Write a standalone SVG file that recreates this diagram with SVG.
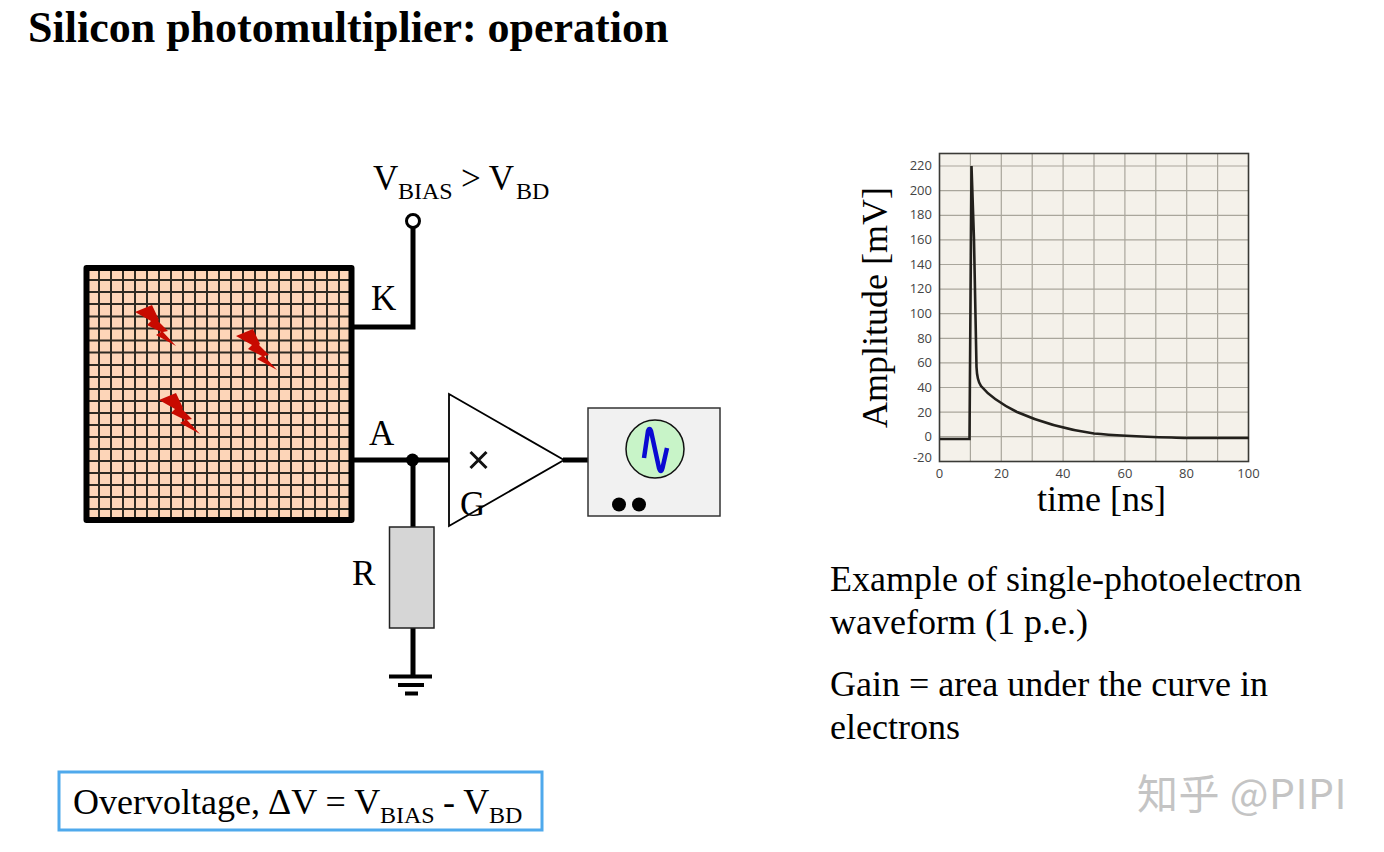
<svg xmlns="http://www.w3.org/2000/svg" width="1384" height="852" viewBox="0 0 1384 852">
<style>
.t{font-family:"Liberation Serif","Times New Roman",serif;fill:#000}
.b{font-size:36px}
.l{font-size:35px}
.s{font-size:24px}
.w{fill:none;stroke:#000;stroke-width:5}
.g{stroke:#2e2a22;stroke-width:2}
.pg{stroke:#a9a69c;stroke-width:1.200}
.n{font-family:"Open Sans","Liberation Sans",sans-serif;font-size:13px;fill:#444;text-anchor:end}
.m{font-family:"Open Sans","Liberation Sans",sans-serif;font-size:13px;fill:#444;text-anchor:middle}
</style>
<defs>
<polygon id="bolt" points="0,7 17,0 24,15 23,16 33,26 28,27 41,41 21,30 26,27 12,20 16,16" fill="#c80a00"/>
</defs>
<rect width="1384" height="852" fill="#fff"/>
<text class="t" x="28" y="42" font-size="44" font-weight="bold">Silicon photomultiplier: operation</text>

<g id="connectors">
<path class="w" d="M413 228V327H353"/>
<path class="w" d="M353 460H449M413 460V527M563 460H588M413 628V676"/>
</g>

<g id="sipm">
<rect x="86" y="268" width="266" height="252" fill="#fdd5b8"/>
<path class="g" d="M99 270V520M111 270V520M123 270V520M135 270V520M147 270V520M159 270V520M171 270V520M183 270V520M195 270V520M207 270V520M219 270V520M231 270V520M243 270V520M255 270V520M267 270V520M279 270V520M291 270V520M303 270V520M315 270V520M327 270V520M339 270V520"/>
<path class="g" d="M88 280H351M88 292H351M88 304H351M88 316.500H351M88 328.500H351M88 340.500H351M88 352.500H351M88 365H351M88 377H351M88 389H351M88 401H351M88 413H351M88 425H351M88 437H351M88 449H351M88 461H351M88 473H351M88 485H351M88 497H351M88 509H351"/>
<rect x="86.500" y="268" width="265" height="252" fill="none" stroke="#000" stroke-width="6" stroke-linejoin="round"/>
<use href="#bolt" x="135" y="305"/>
<use href="#bolt" x="236" y="329"/>
<use href="#bolt" x="159" y="393"/>
</g>

<g id="vbias">
<circle cx="413" cy="221" r="6.500" fill="#fff" stroke="#000" stroke-width="3"/>
<text class="t l" x="373" y="190">V</text>
<text class="t s" x="398" y="199">BIAS</text>
<text class="t l" x="461" y="190">&gt; V</text>
<text class="t s" x="516" y="199">BD</text>
</g>
<g id="label-k"><text class="t l" x="371" y="310">K</text></g>
<g id="label-a"><text class="t l" x="369" y="445">A</text></g>
<g id="junction"><circle cx="412.500" cy="460" r="6.500" fill="#000"/></g>

<g id="amplifier">
<polygon points="449,394 564,460 449,526" fill="#fff" stroke="#000" stroke-width="1.800"/>
<path d="M470.500 452L486.500 468M486.500 452L470.500 468" stroke="#111" stroke-width="3" fill="none"/>
<text class="t l" x="460" y="516">G</text>
</g>

<g id="scope">
<rect x="588" y="408" width="132" height="108" fill="#f1f1f1" stroke="#333" stroke-width="1.500"/>
<circle cx="655" cy="449" r="29" fill="#c8f4c8" stroke="#111" stroke-width="1.500"/>
<path d="M644 458L648 431Q649.500 427 651 431L659 468Q661 474 662.500 468L667 448" fill="none" stroke="#0a0ad2" stroke-width="4.500" stroke-linejoin="round"/>
<circle cx="619" cy="504.500" r="7" fill="#000"/>
<circle cx="639" cy="504.500" r="7" fill="#000"/>
</g>

<g id="resistor">
<rect x="389.500" y="527" width="44.500" height="101" fill="#d6d6d6" stroke="#222" stroke-width="1.500"/>
<text class="t l" x="352" y="585">R</text>
</g>

<g id="ground">
<path d="M389 676.500H432M398 685H424M405 693.500H418" stroke="#000" stroke-width="4" fill="none"/>
</g>

<g id="overvoltage">
<rect x="59" y="772" width="483" height="58" fill="#fff" stroke="#4fa9ec" stroke-width="3"/>
<text class="t b" x="73" y="814">Overvoltage,</text>
<text class="t b" x="268" y="814">ΔV = V</text>
<text class="t s" x="380" y="823">BIAS</text>
<text class="t b" x="443" y="814">- V</text>
<text class="t s" x="489" y="823">BD</text>
</g>

<g id="plot">
<rect x="939.500" y="153.500" width="309" height="308" fill="#f4f1ea"/>
<path class="pg" d="M970.400 153V461M1001.300 153V461M1032.200 153V461M1063.100 153V461M1094 153V461M1124.900 153V461M1155.800 153V461M1186.700 153V461M1217.600 153V461"/>
<path class="pg" d="M939 166H1248M939 190.700H1248M939 215.300H1248M939 239.900H1248M939 264.500H1248M939 289.100H1248M939 313.700H1248M939 338.300H1248M939 362.900H1248M939 387.500H1248M939 412.100H1248M939 436.700H1248"/>
<rect x="939.500" y="153.500" width="309" height="308" fill="none" stroke="#3a3a36" stroke-width="1.600"/>
<path d="M940 439H969.500L971.500 166L974 240L976.500 367C977 378 978 382 981 386C990 397 1001 404 1017 412C1035 420 1063 429 1094 433.500C1125 436.500 1156 437 1187 438C1210 438 1230 438 1249 438" fill="none" stroke="#22201c" stroke-width="2.600"/>
<g>
<text class="n" x="932" y="170">220</text><text class="n" x="932" y="195">200</text><text class="n" x="932" y="219">180</text><text class="n" x="932" y="244">160</text><text class="n" x="932" y="269">140</text><text class="n" x="932" y="293">120</text><text class="n" x="932" y="318">100</text><text class="n" x="932" y="343">80</text><text class="n" x="932" y="367">60</text><text class="n" x="932" y="392">40</text><text class="n" x="932" y="417">20</text><text class="n" x="932" y="441">0</text><text class="n" x="932" y="462">-20</text>
<text class="m" x="939.500" y="478">0</text><text class="m" x="1001.500" y="478">20</text><text class="m" x="1063" y="478">40</text><text class="m" x="1125" y="478">60</text><text class="m" x="1186.500" y="478">80</text><text class="m" x="1248.500" y="478">100</text>
</g>
<text class="t" transform="translate(887 428) rotate(-90)" font-size="36">Amplitude [mV]</text>
<text class="t" x="1037" y="511" font-size="36">time [ns]</text>
</g>

<g id="caption">
<text class="t b" x="830" y="591">Example of single-photoelectron</text>
<text class="t b" x="830" y="634">waveform (1 p.e.)</text>
<text class="t b" x="830" y="696">Gain = area under the curve in</text>
<text class="t b" x="830" y="739">electrons</text>
</g>

<text x="1137" y="809" font-family="'Noto Sans CJK SC','Noto Sans',sans-serif" font-size="41" letter-spacing="0.500" fill="#c4c4c4">知乎 @PIPI</text>
</svg>
